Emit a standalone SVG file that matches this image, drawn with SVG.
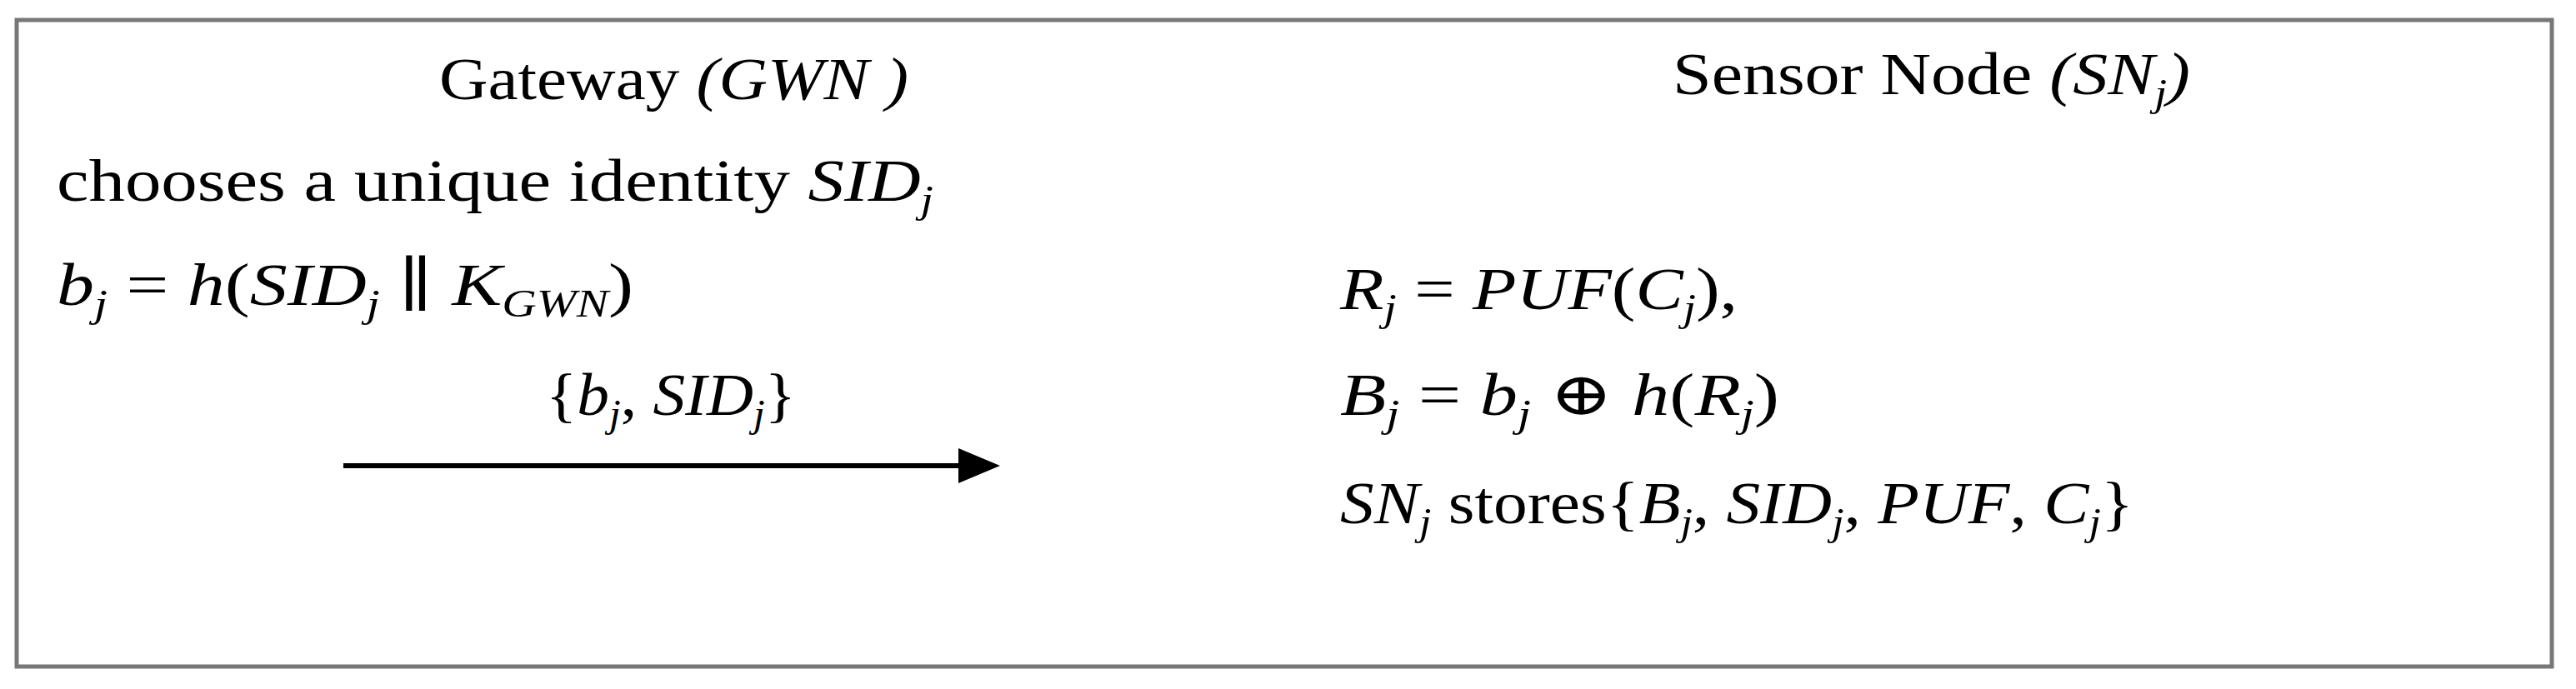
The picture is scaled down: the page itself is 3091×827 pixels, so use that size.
<svg xmlns="http://www.w3.org/2000/svg" width="3091" height="827" viewBox="0 0 3091 827">
<style>
text{font-family:"Liberation Serif","DejaVu Serif",serif;font-size:72px;fill:#000}
.i{font-style:italic}
.s{font-size:46px;font-style:italic}
</style>
<rect x="20" y="24" width="3042" height="776" fill="#fff" stroke="#777" stroke-width="5"/>
<g id="gateway">
<text x="527" y="119" textLength="563" lengthAdjust="spacingAndGlyphs">Gateway <tspan class="i">(GWN )</tspan></text>
<text x="68" y="241" textLength="1052" lengthAdjust="spacingAndGlyphs">chooses a unique identity   <tspan class="i">SID</tspan><tspan class="s" dy="14">j</tspan></text>
<text x="68" y="366" textLength="692" lengthAdjust="spacingAndGlyphs"><tspan class="i">b</tspan><tspan class="s" dy="14">j</tspan><tspan dy="-14"> = </tspan><tspan class="i">h</tspan>(<tspan class="i">SID</tspan><tspan class="s" dy="14">j</tspan><tspan dy="-14"> ∥ </tspan><tspan class="i">K</tspan><tspan class="s" dy="14">GWN</tspan><tspan dy="-14">)</tspan></text>
</g>
<g id="sensor">
<text x="2007" y="113" textLength="621" lengthAdjust="spacingAndGlyphs">Sensor Node <tspan class="i">(SN</tspan><tspan class="s" dy="14">j</tspan><tspan class="i" dy="-14">)</tspan></text>
<text x="1608" y="371" textLength="477" lengthAdjust="spacingAndGlyphs"><tspan class="i">R</tspan><tspan class="s" dy="14">j</tspan><tspan dy="-14"> = </tspan><tspan class="i">PUF</tspan>(<tspan class="i">C</tspan><tspan class="s" dy="14">j</tspan><tspan dy="-14">),</tspan></text>
<text x="1608" y="498" textLength="527" lengthAdjust="spacingAndGlyphs"><tspan class="i">B</tspan><tspan class="s" dy="14">j</tspan><tspan dy="-14"> = </tspan><tspan class="i">b</tspan><tspan class="s" dy="14">j</tspan><tspan dy="-14"> ⊕ </tspan><tspan class="i">h</tspan>(<tspan class="i">R</tspan><tspan class="s" dy="14">j</tspan><tspan dy="-14">)</tspan></text>
<text x="1608" y="628" textLength="952" lengthAdjust="spacingAndGlyphs"><tspan class="i">SN</tspan><tspan class="s" dy="14">j</tspan><tspan dy="-14">   stores{</tspan><tspan class="i">B</tspan><tspan class="s" dy="14">j</tspan><tspan dy="-14">, </tspan><tspan class="i">SID</tspan><tspan class="s" dy="14">j</tspan><tspan dy="-14">, </tspan><tspan class="i">PUF</tspan>, <tspan class="i">C</tspan><tspan class="s" dy="14">j</tspan><tspan dy="-14">}</tspan></text>
</g>
<g id="connectors">
<line x1="412" y1="559" x2="1155" y2="559" stroke="#000" stroke-width="6"/>
<path d="M1150,538 L1200,559 L1150,580 Z" fill="#000"/>
<text x="655" y="498" textLength="300" lengthAdjust="spacingAndGlyphs">{<tspan class="i">b</tspan><tspan class="s" dy="14">j</tspan><tspan dy="-14">, </tspan><tspan class="i">SID</tspan><tspan class="s" dy="14">j</tspan><tspan dy="-14">}</tspan></text>
</g>
</svg>
